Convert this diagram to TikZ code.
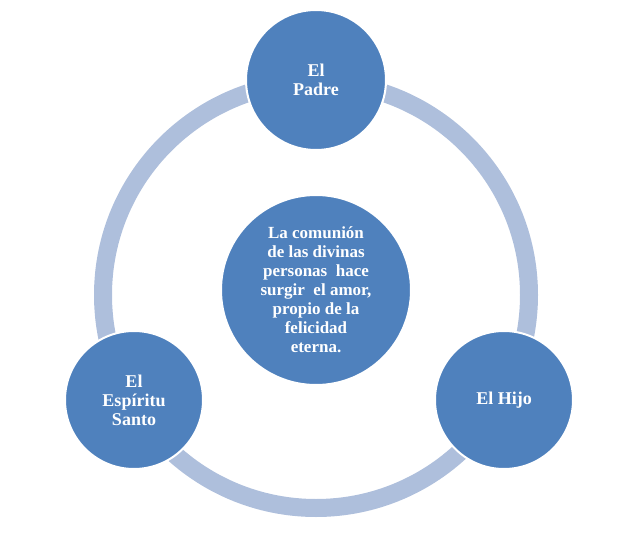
\documentclass[tikz,border=0pt]{standalone}
\usepackage{fontspec}
\setmainfont{Liberation Serif}
\definecolor{blu}{HTML}{4F81BD}
\definecolor{ring}{HTML}{AEBFDC}
\begin{document}
\begin{tikzpicture}[x=1pt,y=-1pt,
  bub/.style={circle,fill=blu,draw=white,line width=2pt,text=white,font=\bfseries\fontsize{18}{19}\selectfont,align=center,inner sep=0pt}]
\useasboundingbox (0,0) rectangle (632,543);
\coordinate (rc) at (316,295);
\draw[ring,line width=18pt] (rc) circle[radius=213];
\node[bub,minimum size=140pt] (padre) at (316,80) {El\\Padre};
\node[bub,minimum size=190pt,font=\bfseries\fontsize{17}{19}\selectfont] (centro) at (316,290) {La comunión\\de las divinas\\personas\ \ hace\\surgir\ \ el amor,\\propio de la\\felicidad\\eterna.};
\node[bub,minimum size=138pt] (hijo) at (504,400) {El Hijo};
\node[bub,minimum size=138pt] (esp) at (134,400) {El\\Espíritu\\Santo};
\end{tikzpicture}
\end{document}
